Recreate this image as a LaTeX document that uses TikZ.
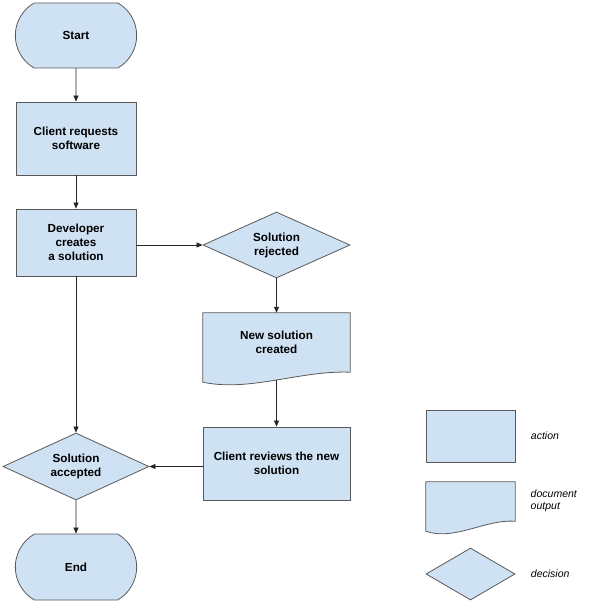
\documentclass[tikz,border=0pt]{standalone}
\usepackage{fontspec}
\setmainfont{Liberation Sans}
\usepackage{tikz}
\usetikzlibrary{positioning, shapes.geometric, shapes.misc, arrows.meta, backgrounds, calc}
\usepackage{xcolor}
\definecolor{boxblue}{HTML}{CFE2F3}
\definecolor{boxline}{HTML}{595959}

% document shape drawn round a node; wave at the bottom
\newcommand{\docshape}[1]{%
  \draw[shape line] (#1.north west) -- (#1.north east) -- ([yshift=-1pt]#1.south east)
    .. controls ($(#1.south west)!0.66!(#1.south east)+(0,1pt)$)
    and ($(#1.south west)!0.32!(#1.south east)+(0,-21pt)$) ..
    coordinate[pos=0.5] (#1-wave) ([yshift=-11pt]#1.south west) -- cycle;}

\begin{document}
\begin{tikzpicture}[
    x=1pt, y=1pt,
    >={Triangle[length=6pt,width=5pt]},
    shape line/.style={draw=boxline, fill=boxblue, line width=0.8pt},
    box text/.style={font=\bfseries\fontsize{11.7}{14}\selectfont, align=center},
    terminal/.style={rounded rectangle, rounded rectangle arc length=120, shape line, box text,
        minimum width=128pt, minimum height=65pt},
    action/.style={rectangle, shape line, box text, minimum width=120pt, minimum height=73pt},
    decision/.style={diamond, aspect=2.2, inner sep=0pt, shape line, box text,
        minimum width=147pt, minimum height=66pt},
    doc/.style={rectangle, box text, minimum width=147pt, minimum height=58pt},
    legend/.style={font=\itshape\fontsize{10.5}{12.5}\selectfont, align=left, anchor=west},
    flow/.style={->, color=black!85, line width=0.7pt}
]
    \useasboundingbox (0,0) rectangle (600,-604);

    % Main flow: left column, right column
    \node[terminal] (start) at (76,-35.5) {Start};
    \node[action] (req) at (76,-138.5) {Client requests\\software};
    \node[action, minimum height=67pt] (dev) at (76,-242.5) {Developer\\creates\\a solution};
    \node[decision] (rej) at (276.5,-245) {Solution\\rejected};
    \node[doc] (newsol) at (276.5,-342) {New solution\\created};
    \node[action, minimum width=147pt] (rev) at (276.5,-463.5) {Client reviews the new\\solution};
    \node[decision, minimum width=146pt, minimum height=67pt] (acc) at (76,-466.5) {Solution\\accepted};
    \node[terminal, minimum height=66pt] (end) at (76,-567) {End};

    % Legend
    \node[action, minimum width=89pt, minimum height=52pt] (la) at (470.5,-436) {};
    \node[doc, minimum width=89pt, minimum height=38pt] (ld) at (470.5,-501) {};
    \node[decision, minimum width=89pt, minimum height=52pt] (lde) at (470.5,-574) {};
    \node[legend, right=12pt of la] (la-text) {action};
    \node[legend, right=12pt of ld] (ld-text) {document\\output};
    \node[legend, right=12pt of lde] (lde-text) {decision};

    \begin{scope}[on background layer]
        \docshape{newsol}
        \docshape{ld}
    \end{scope}

    \path[flow]
        (start) edge (req)
        (req) edge (dev)
        (rej.west -| dev.east) edge (rej.west)
        (rej) edge (newsol)
        (newsol.south |- newsol-wave) edge (rev)
        (dev) edge (acc)
        (acc.east -| rev.west) edge (acc.east)
        (acc) edge (end);
\end{tikzpicture}
\end{document}
